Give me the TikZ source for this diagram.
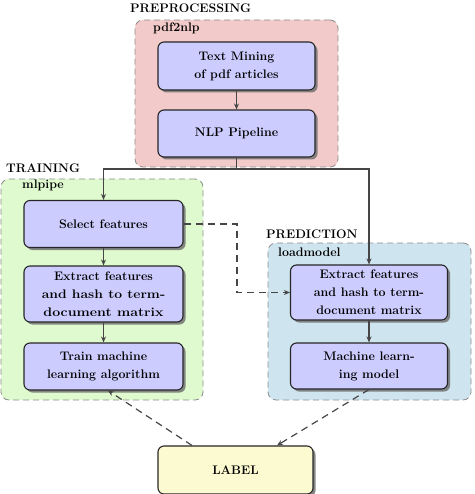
\documentclass[tikz,border=0pt]{standalone}
\usetikzlibrary{shadows,arrows.meta}
\definecolor{grpred}{RGB}{242,202,202}
\definecolor{grpgreen}{RGB}{222,250,206}
\definecolor{grpblue}{RGB}{206,228,238}
\definecolor{boxblue}{RGB}{204,204,255}
\definecolor{boxyellow}{RGB}{252,250,208}
\definecolor{conn}{RGB}{70,70,70}
\tikzset{
  grp/.style={draw=black!45, line width=0.8pt, dash pattern=on 6pt off 4pt, rounded corners=8pt, inner sep=0pt},
  procbox/.style={draw=black!85, line width=1.1pt, rounded corners=6pt, fill=boxblue,
    drop shadow={shadow xshift=2.5pt, shadow yshift=-2.5pt, fill=black!55, opacity=0.85},
    align=center, minimum width=157pt, inner sep=0pt, font=\fontsize{12.4}{18}\selectfont\bfseries},
  grplabel/.style={anchor=base west, inner sep=0pt, font=\fontsize{12.4}{15}\selectfont\bfseries},
  arr/.style={draw=conn, line width=1.2pt, -{Stealth[length=6pt,width=5pt]}},
  darr/.style={arr, dash pattern=on 7pt off 5pt},
}
\begin{document}
\begin{tikzpicture}[x=1pt,y=-1pt]
\useasboundingbox (0,0) rectangle (474,494);
% groups
\node[grp, fill=grpred, minimum width=203pt, minimum height=147pt] (g1) at (236.5,93.5) {};
\node[grp, fill=grpgreen, minimum width=202pt, minimum height=221pt] (g2) at (102,289.5) {};
\node[grp, fill=grpblue, minimum width=203pt, minimum height=157pt] (g3) at (369.5,321.5) {};
% group labels
\node[grplabel] (l1) at (130,13) {PREPROCESSING};
\node[grplabel] (l1s) at (153,32) {pdf2nlp};
\node[grplabel] (l2) at (6,172) {TRAINING};
\node[grplabel] (l2s) at (22,189) {mlpipe};
\node[grplabel] (l3) at (266,238) {PREDICTION};
\node[grplabel] (l3s) at (278,256) {loadmodel};
% boxes
\node[procbox, minimum height=48pt] (tm) at (236.5,66) {Text Mining\\of pdf articles};
\node[procbox, minimum height=47pt] (nlp) at (236.5,133.5) {NLP Pipeline};
\node[procbox, minimum height=47pt, minimum width=159pt] (sf) at (103.5,224) {Select features};
\node[procbox, minimum height=56pt, minimum width=159pt] (ef1) at (103.5,294) {Extract features\\\scalebox{1.12}[1]{and hash to term-}\\\scalebox{1.14}[1]{document matrix}};
\node[procbox, minimum height=47pt, minimum width=159pt] (tr) at (103.5,366.5) {Train machine\\learning algorithm};
\node[procbox, minimum height=55pt] (ef2) at (369,292.5) {Extract features\\and hash to term-\\document matrix};
\node[procbox, minimum height=46pt] (ml) at (369,366) {Machine learn-\\ing model};
\node[procbox, fill=boxyellow, minimum height=48pt, minimum width=155pt] (lab) at (235.5,470) {LABEL};
% connectors
\coordinate (split) at (236.5,169);
\coordinate (dj) at (237,224);
\draw[arr] (tm) -- (nlp);
\draw[arr] (nlp.south) -- (split) -| (sf.north);
\draw[arr] (split) -| (ef2.north);
\draw[arr] (sf) -- (ef1);
\draw[arr] (ef1) -- (tr);
\draw[arr] (ef2) -- (ml);
\draw[darr] (sf.east) -- (dj) |- (ef2.west);
\draw[darr] ([xshift=-43.5pt]lab.north) -- ([xshift=4.5pt]tr.south);
\draw[darr] (ml.south) -- ([xshift=41.5pt]lab.north);
\end{tikzpicture}
\end{document}
